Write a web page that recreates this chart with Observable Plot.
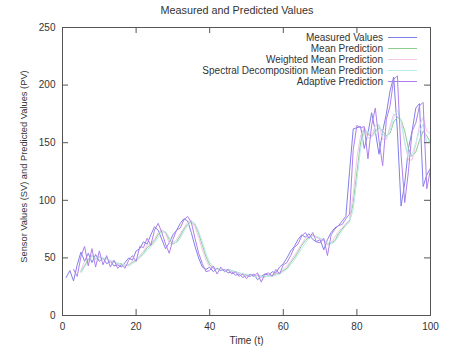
<!DOCTYPE html>
<html><head><meta charset="utf-8">
<script src="https://cdn.jsdelivr.net/npm/d3@7"></script>
<script src="https://cdn.jsdelivr.net/npm/@observablehq/plot@0.6"></script>
<style>
body{margin:0;background:#fff;font-family:"Liberation Sans",Arial,sans-serif;}
#title{width:474px;height:20px;line-height:20px;text-align:center;font-size:10.8px;color:#333;}
</style></head><body>
<div id="title">Measured and Predicted Values</div>
<div id="chart"></div>
<script>
const seriesNames = ["Measured Values","Mean Prediction","Weighted Mean Prediction","Spectral Decomposition Mean Prediction","Adaptive Prediction"];
const seriesColors = ["#8080ec","#8ccc8c","#f2c6ea","#b8ecec","#b080ea"];
const xTicks = [0,20,40,60,80,100];
const yTicks = [0,50,100,150,200,250];
const xLabel = "Time (t)";
const yLabel = "Sensor Values (SV) and Predicted Values (PV)";

const measuredStart = 1;
const measured = [33,39,30,44,55,47,54,46,53,47,
  50,45,47,43,44,42,46,50,48,56,
  58,64,62,70,77,74,66,58,63,70,
  74,80,84,82,72,60,50,42,40,42,
  38,41,39,40,37,38,35,36,33,35,
  34,36,31,34,36,35,38,37,42,45,
  50,56,60,66,70,68,71,66,64,66,
  57,66,72,76,78,82,86,125,162,163,
  164,145,158,176,160,140,160,175,195,207,
  160,95,115,145,160,180,184,112,122,128];

const meanStart = 5;
const meanPred = [38,43,49,52,49,51,49,50,47,47,
  45,45,43,44,46,48,51,54,59,61,
  65,70,74,72,66,62,64,69,75,79,
  82,79,71,61,51,44,41,40,40,39,
  40,39,38,37,36,35,35,34,35,34,
  34,34,35,36,37,39,41,46,50,55,
  61,65,68,70,68,67,65,62,63,65,
  71,75,79,82,98,124,150,163,157,156,160,
  163,160,156,158,168,172,170,160,145,138,142,152,160,156,150];

const weightedStart = 5;
const weightedPred = [39,47,49,52,49,51,49,50,47,47,
  45,44,43,44,47,48,52,56,61,62,
  66,72,74,71,63,62,66,71,76,81,
  82,77,68,57,48,42,41,40,40,39,
  40,38,38,36,36,34,35,34,35,33,
  33,35,35,37,37,40,43,47,52,57,
  62,67,68,70,68,66,65,61,63,68,
  73,76,80,83,105,137,156,163,154,155,165,
  165,153,153,164,175,173,170,150,135,135,148,165,172,160,158];

const spectralStart = 5;
const spectralPred = [37,42,47,51,50,50,50,49,48,46,
  46,44,44,43,45,47,50,53,57,60,
  63,68,72,73,68,64,63,67,73,78,
  81,80,73,64,54,46,42,40,40,39,
  39,39,38,37,36,36,35,34,34,34,
  34,34,34,35,36,38,40,44,48,53,
  58,63,67,69,69,67,66,63,62,64,
  69,74,78,81,92,118,145,160,160,155,158,
  166,158,154,160,172,178,168,150,138,140,150,160,166,150,152];

const adaptiveStart = 3;
const adaptivePred = [40,34,51,60,43,58,42,56,44,52,
  42,48,41,44,41,48,52,47,60,59,
  67,61,74,80,72,62,54,66,74,76,
  83,86,81,67,54,45,38,39,43,36,
  42,38,40,36,38,34,36,32,36,34,
  37,29,36,37,34,40,36,44,46,52,
  59,62,69,72,67,72,64,63,67,52,
  70,75,78,79,84,88,144,165,163,164,
  136,165,180,152,130,170,182,205,208,140,
  98,125,160,167,182,185,110,127];

const seriesValues = [measured, meanPred, weightedPred, spectralPred, adaptivePred];
const seriesStarts = [measuredStart, meanStart, weightedStart, spectralStart, adaptiveStart];

const rows = seriesValues.map((vals, k) => vals.map((v, i) => ({t: seriesStarts[k] + i, v, s: seriesNames[k]})));

const W = 474, H = 335;
const mL = 62, mR = 44, mT = 7, mB = 40;
const plotW = W - mL - mR, plotH = H - mT - mB;
const tick = 6;
const ink = "#333";

const marks = [];
rows.forEach((r, k) => marks.push(Plot.line(r, {x: "t", y: "v", stroke: seriesColors[k], strokeWidth: 1})));
marks.push(
  Plot.tickX(xTicks, {x: d => d, stroke: "#555", insetTop: plotH - tick}),
  Plot.tickX(xTicks, {x: d => d, stroke: "#555", insetBottom: plotH - tick}),
  Plot.tickY(yTicks, {y: d => d, stroke: "#555", insetRight: plotW - tick}),
  Plot.tickY(yTicks, {y: d => d, stroke: "#555", insetLeft: plotW - tick}),
  Plot.axisX(xTicks, {anchor: "bottom", tickSize: 0, tickPadding: 7, label: null, fontSize: 10, color: ink}),
  Plot.axisY(yTicks, {anchor: "left", tickSize: 0, tickPadding: 7, label: null, fontSize: 10, color: ink}),
  Plot.text([xLabel], {frameAnchor: "bottom", dy: 28, text: d => d, fontSize: 10, fill: ink}),
  Plot.text([yLabel], {frameAnchor: "left", dx: -38, dy: -5, rotate: -90, textAnchor: "middle", text: d => d, fontSize: 9.3, fill: ink}),
  Plot.frame({stroke: "#555"})
);

const chart = Plot.plot({
  width: W, height: H,
  marginLeft: mL, marginRight: mR, marginTop: mT, marginBottom: mB,
  x: {domain: [0, 100]},
  y: {domain: [0, 250]},
  style: {fontFamily: "'Liberation Sans', Arial, sans-serif", fontSize: "10px", background: "#fff", color: ink},
  marks
});

// legend (gnuplot style, top right inside frame)
const svg = d3.select(chart);
const lg = svg.append("g").attr("font-size", 10).attr("fill", ink);
seriesNames.forEach((name, k) => {
  const y = mT + 10.5 + k * 11;
  const xr = mL + plotW - 47;
  lg.append("text").attr("x", xr).attr("y", y).attr("dy", "0.35em").attr("text-anchor", "end").text(name);
  lg.append("line").attr("x1", xr + 5).attr("x2", xr + 34).attr("y1", y).attr("y2", y)
    .attr("stroke", seriesColors[k]).attr("stroke-width", 1);
});

document.getElementById("chart").appendChild(chart);
</script></body></html>
